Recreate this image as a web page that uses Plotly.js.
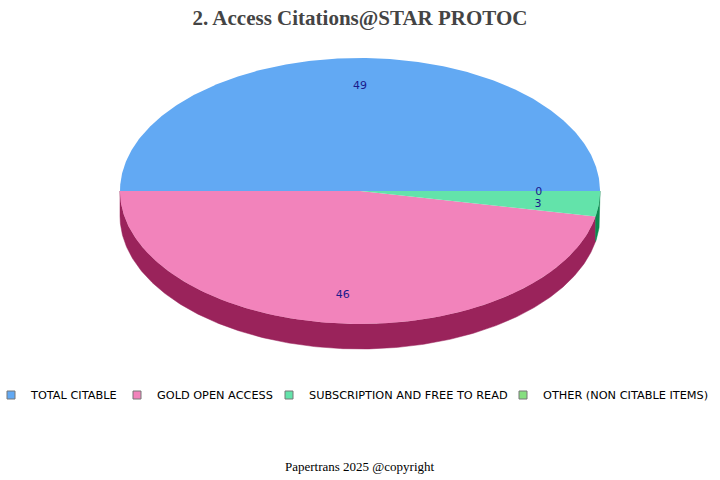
<!DOCTYPE html>
<html><head><meta charset="utf-8">
<script src="https://cdn.plot.ly/plotly-3.0.1.min.js"></script>
<style>body{margin:0;background:#fff}#c{width:720px;height:480px}</style>
</head><body><div id="c"></div>
<script>
const categories = ["TOTAL CITABLE", "GOLD OPEN ACCESS", "SUBSCRIPTION AND FREE TO READ", "OTHER (NON CITABLE ITEMS)"];
const values = [49, 46, 3, 0];
const topColors = ["#62A9F3", "#F283BB", "#63E3AA", "#86DF80"];
const sideColors = ["#2F6FB0", "#9A235B", "#0B8A4F", "#3E9A3E"];
// left edge (px) of each legend entry
const legendLeft = [-9, 117, 269, 503];

const cx = 360, cy = 191, rx = 240, ry = 133, depth = 25;
const total = values.reduce((a, b) => a + b, 0);
const px = t => cx + rx * Math.cos(t);
const py = t => cy - ry * Math.sin(t);

const walls = [], tops = [], labels = {x: [], y: [], text: []}, legend = [];
const legendLayouts = {};
let start = 0;
values.forEach((v, i) => {
  const sweep = v / total * 2 * Math.PI;
  const a0 = start, a1 = start + sweep;
  start = a1;
  if (v > 0) {
    const n = Math.max(2, Math.ceil(sweep / 0.01));
    const xs = [cx], ys = [cy];
    for (let k = 0; k <= n; k++) { const t = a0 + sweep * k / n; xs.push(px(t)); ys.push(py(t)); }
    xs.push(cx); ys.push(cy);
    tops.push({type: 'scatter', mode: 'lines', x: xs, y: ys, fill: 'toself', fillcolor: topColors[i],
      line: {width: 0, color: topColors[i]}, hoverinfo: 'skip', showlegend: false});
    const w0 = Math.max(a0, Math.PI), w1 = Math.min(a1, 2 * Math.PI);
    if (w1 > w0) {
      const m = Math.max(2, Math.ceil((w1 - w0) / 0.01));
      const wx = [], wy = [];
      for (let k = 0; k <= m; k++) { const t = w0 + (w1 - w0) * k / m; wx.push(px(t)); wy.push(py(t)); }
      for (let k = m; k >= 0; k--) { const t = w0 + (w1 - w0) * k / m; wx.push(px(t)); wy.push(py(t) + depth); }
      wx.push(wx[0]); wy.push(wy[0]);
      walls.push({type: 'scatter', mode: 'lines', x: wx, y: wy, fill: 'toself', fillcolor: sideColors[i],
        line: {width: 0.5, color: sideColors[i]}, hoverinfo: 'skip', showlegend: false});
    }
  }
  const mid = (a0 + a1) / 2;
  labels.x.push(cx + 0.745 * rx * Math.cos(mid));
  labels.y.push(cy - 0.785 * ry * Math.sin(mid) + (i === 2 ? 3 : 0) + (v === 0 ? 1 : 0));
  labels.text.push(String(v));
  const lname = i === 0 ? 'legend' : 'legend' + (i + 1);
  legend.push({type: 'scatter', mode: 'markers', x: [null], y: [null], name: categories[i], legend: lname,
    marker: {symbol: 'square', size: 8, color: topColors[i], line: {color: '#777', width: 1}}, hoverinfo: 'skip'});
  legendLayouts[lname] = {orientation: 'h', x: legendLeft[i] / 720, xanchor: 'left', y: 1 - 395 / 480, yanchor: 'middle',
    font: {family: 'DejaVu Sans', size: 11.3, color: '#000'}, bgcolor: 'rgba(0,0,0,0)', borderwidth: 0};
});

const textTrace = {type: 'scatter', mode: 'text', x: labels.x, y: labels.y, text: labels.text,
  textposition: 'middle center', textfont: {family: 'DejaVu Sans', size: 11, color: '#1a1a8c'},
  hoverinfo: 'skip', showlegend: false};

const layout = Object.assign({
  width: 720, height: 480,
  margin: {l: 0, r: 0, t: 0, b: 0, autoexpand: false},
  paper_bgcolor: '#fff', plot_bgcolor: '#fff',
  xaxis: {range: [0, 720], visible: false, fixedrange: true},
  yaxis: {range: [480, 0], visible: false, fixedrange: true},
  title: {text: '<b>2. Access Citations@STAR PROTOC</b>', x: 0.5, xanchor: 'center', y: 1 - 18 / 480, yanchor: 'middle',
    font: {family: 'Liberation Serif', size: 21, color: '#444'}},
  showlegend: true,
  annotations: [{text: 'Papertrans 2025 @copyright', xref: 'paper', yref: 'paper', x: 0.5, y: 1 - 466 / 480,
    xanchor: 'center', yanchor: 'middle', showarrow: false, font: {family: 'Liberation Serif', size: 13, color: '#000'}}]
}, legendLayouts);

Plotly.newPlot('c', walls.concat(tops, [textTrace], legend), layout, {displayModeBar: false, staticPlot: true});
</script></body></html>
